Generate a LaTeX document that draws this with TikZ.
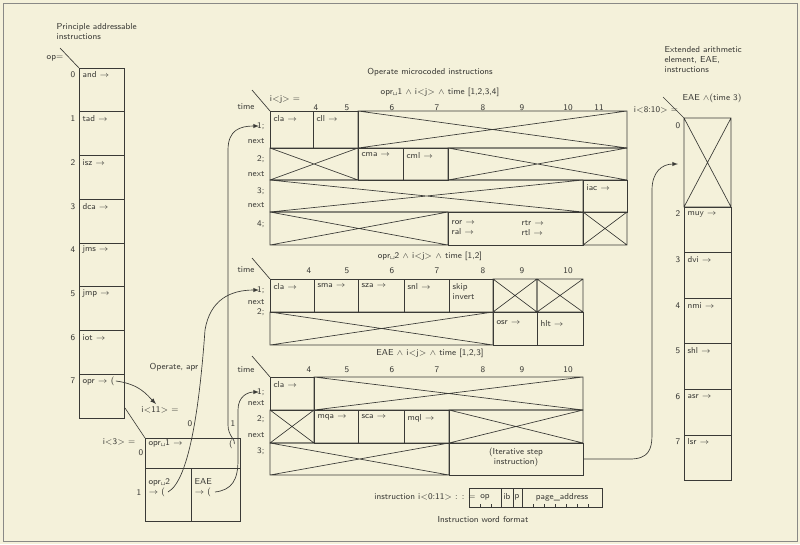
\documentclass[tikz,border=0pt]{standalone}
\usepackage{amsmath, amssymb}
\usepackage{tikz}
\usetikzlibrary{positioning}
\definecolor{paper}{HTML}{F4F1DA}
\definecolor{ink}{HTML}{3A3A36}
\tikzset{
  lbl/.style={font=\fontsize{6.5}{7.5}\sffamily, text=ink, inner sep=1pt},
  ttl/.style={lbl, align=left, anchor=north west},
  grid/.style={draw=ink, line width=0.5pt},
  link/.style={draw=ink, line width=0.5pt, -latex},
}
% crossed-out cell: x1,y1,x2,y2
\newcommand{\xcell}[4]{\draw[grid] (#1,#2) rectangle (#3,#4) (#1,#2) -- (#3,#4) (#1,#4) -- (#3,#2);}
\newcommand{\ar}{$\to$}
\newcommand{\vsp}{\textvisiblespace}
\begin{document}
\begin{tikzpicture}[x=0.75pt, y=-0.75pt]
			% Paper
			\fill[paper] (0,0) rectangle (800,544);
			\useasboundingbox (0,0) rectangle (800,544);
			\draw[ink!60, line width=0.6pt] (3,3) rectangle (797,541);
			
			% Principle addressable instructions
			\node[ttl] (ptitle) at (55,22) {Principle addressable\\instructions};
			\draw[grid] (60,48) -- (79,68);
			\node[lbl] (opeq) at (55,58) {op=};
			\foreach \name [count=\i from 0] in {and,tad,isz,dca,jms,jmp,iot} {
				\draw[grid] (79,68+43.75*\i) rectangle (124,111.75+43.75*\i);
				\node[lbl] at (73,75+43.75*\i) {\i};
				\node[lbl, anchor=west] at (81,75+43.75*\i) {\name\ \ar};
			}
			\draw[grid] (79,374) rectangle (124,418);
			\node[lbl] at (73,381) {7};
			\node[lbl, anchor=west] (opr) at (81,381) {opr \ar\ (};
			
			% Operate, apr
			\node[lbl] (optitle) at (174,367) {Operate, apr};
			\node[lbl] (i11) at (160,410) {i$<$11$>$ =};
			\draw[grid] (125,408) -- (145,438);
			\coordinate (opin) at (156,404);
			\node[lbl] at (190,424) {0};
			\node[lbl] at (233,424) {1};
			\node[lbl] at (119,442) {i$<$3$>$ =};
			\node[lbl] at (141,453) {0};
			\node[lbl] at (139,493) {1};
			\draw[grid] (145,438) rectangle (240,521);
			\draw[grid] (145,468) -- (240,468) (191,468) -- (191,521);
			\node[lbl, anchor=west] at (147,443) {opr\vsp1 \ar};
			\node[lbl] (o1) at (231,444) {(};
			\node[lbl, anchor=north west, align=left] at (147,477) {opr\vsp2\\ \ar\ (};
			\node[lbl, anchor=north west, align=left] at (193,477) {EAE\\ \ar\ (};
			\coordinate (o2) at (168,492);
			\coordinate (o3) at (215,492);
			
			% Operate microcoded instructions
			\node[lbl] (mtitle) at (430,72) {Operate microcoded instructions};
			\node[lbl] at (440,92) {opr\vsp1 $\wedge$ i$<$j$>$ $\wedge$ time [1,2,3,4]};
			\node[lbl] at (285,100) {i$<$j$>$ =};
			\node[lbl] at (246,107) {time};
			\draw[grid] (252,90) -- (270,111);
			\foreach \d/\x in {4/316,5/347,6/392,7/437,8/483,9/522,10/568,11/599}
				\node[lbl] at (\x,108) {\d};
			\draw[grid] (270,111) rectangle (313,148) (313,111) rectangle (358,148);
			\node[lbl, anchor=north west] at (272,114) {cla \ar};
			\node[lbl, anchor=north west] at (315,114) {cll \ar};
			\xcell{358}{111}{627}{148}
			\xcell{270}{148}{358}{180}
			\draw[grid] (358,148) rectangle (403,180) (403,148) rectangle (448,180);
			\node[lbl, anchor=north west] at (360,151) {cma \ar};
			\node[lbl, anchor=north west] at (405,151) {cml \ar};
			\xcell{448}{148}{627}{180}
			\xcell{270}{180}{583}{212}
			\draw[grid] (583,180) rectangle (627,212);
			\node[lbl, anchor=north west] at (585,183) {iac \ar};
			\xcell{270}{212}{448}{245}
			\draw[grid] (448,212) rectangle (583,245);
			\node[lbl, anchor=north west, align=left] at (450,219) {ror \ar\\ral \ar};
			\node[lbl, anchor=north west, align=left] at (520,219) {rtr \ar\\rtl \ar};
			\xcell{583}{212}{627}{245}
			\foreach \t/\y in {1;/126,next/141,2;/159,next/174,3;/191,next/205,4;/224}
				\node[lbl, anchor=east] at (266,\y) {\t};
			\coordinate (t1) at (259,126);
			
			% opr 2 table
			\node[lbl] at (430,256) {opr\vsp2 $\wedge$ i$<$j$>$ $\wedge$ time [1,2]};
			\node[lbl] at (246,270) {time};
			\draw[grid] (252,258) -- (270,279);
			\foreach \d/\x in {4/309,5/347,6/392,7/437,8/483,9/522,10/568}
				\node[lbl] at (\x,271) {\d};
			\foreach \nm/\xa/\xb in {cla \ar/270/314,sma \ar/314/358,sza \ar/358/404,snl \ar/404/449} {
				\draw[grid] (\xa,279) rectangle (\xb,312);
				\node[lbl, anchor=north west] at (\xa+2,282) {\nm};
			}
			\draw[grid] (449,279) rectangle (493,312);
			\node[lbl, anchor=north west, align=left] at (451,282) {skip\\invert};
			\xcell{493}{279}{537}{312}
			\xcell{537}{279}{583}{312}
			\xcell{270}{312}{493}{345}
			\draw[grid] (493,312) rectangle (537,345) (537,312) rectangle (583,345);
			\node[lbl, anchor=north west] at (495,319) {osr \ar};
			\node[lbl, anchor=north west] at (539,319) {hlt \ar};
			\foreach \t/\y in {1;/290,next/302,2;/312}
				\node[lbl, anchor=east] at (266,\y) {\t};
			\coordinate (t2) at (259,290);
			
			% EAE table
			\node[lbl] at (430,353) {EAE $\wedge$ i$<$j$>$ $\wedge$ time [1,2,3]};
			\node[lbl] at (246,370) {time};
			\draw[grid] (252,356) -- (270,377);
			\foreach \d/\x in {4/309,5/347,6/392,7/437,8/483,9/522,10/568}
				\node[lbl] at (\x,370) {\d};
			\draw[grid] (270,377) rectangle (314,410);
			\node[lbl, anchor=north west] at (272,380) {cla \ar};
			\xcell{314}{377}{583}{410}
			\xcell{270}{410}{314}{443}
			\foreach \nm/\xa/\xb in {mqa \ar/314/358,sca \ar/358/404,mql \ar/404/449} {
				\draw[grid] (\xa,410) rectangle (\xb,443);
				\node[lbl, anchor=north west] at (\xa+2,413) {\nm};
			}
			\xcell{449}{410}{583}{443}
			\xcell{270}{443}{449}{475}
			\draw[grid] (449,443) rectangle (583,475);
			\node[lbl, align=center] (iter) at (516,457) {(Iterative step\\instruction)};
			\coordinate (eout) at (583,459);
			\foreach \t/\y in {1;/392,next/403,2;/419,next/435,3;/451}
				\node[lbl, anchor=east] at (266,\y) {\t};
			\coordinate (t3) at (259,392);
			
			% Instruction word format
			\node[lbl] (fmt) at (425,497) {instruction i$<$0:11$>$ : : =};
			\draw[grid] (469,488) rectangle (602,507);
			\draw[grid] (501,488) -- (501,507) (513,488) -- (513,507) (522,488) -- (522,507);
			\foreach \x in {480,491,533,544,555,566,577,588}
				\draw[grid] (\x,507) -- (\x,504);
			\node[lbl] at (485,497) {op};
			\node[lbl] at (507,497) {ib};
			\node[lbl] at (517,497) {p};
			\node[lbl] at (562,497) {page\_address};
			\node[lbl] at (483,519) {Instruction word format};
			
			% Extended arithmetic element
			\node[ttl] (etitle) at (663,45) {Extended arithmetic\\element, EAE,\\instructions};
			\node[lbl] at (712,98) {EAE $\wedge$(time 3)};
			\node[lbl] at (656,110) {i$<$8:10$>$ =};
			\draw[grid] (663,97) -- (684,118);
			\xcell{684}{118}{731}{207}
			\node[lbl] at (678,126) {0};
			\foreach \name/\d [count=\i from 0] in {muy/2,dvi/3,nmi/4,shl/5,asr/6,lsr/7} {
				\draw[grid] (684,207+45.6*\i) rectangle (731,252.6+45.6*\i);
				\node[lbl] at (678,214+45.6*\i) {\d};
				\node[lbl, anchor=west] at (686,214+45.6*\i) {\name\ \ar};
			}
			\coordinate (ein) at (678,164);
			
			% Connectors
			\draw[link] (opr.east) .. controls (140,384) and (148,396) .. (opin);
			\draw[link] (o1.east) .. controls (236,440) and (228,436) .. (228,425)
				-- (228,150) .. controls (228,130) and (240,126) .. (t1);
			\draw[link] (o2) .. controls (190,480) and (200,400) .. (205,330)
				.. controls (210,300) and (230,290) .. (t2);
			\draw[link] (o3) .. controls (232,490) and (238,480) .. (238,460)
				-- (238,410) .. controls (238,396) and (248,392) .. (t3);
			\draw[link] (eout) -- (630,459) .. controls (648,459) and (652,450) .. (652,435)
				-- (652,190) .. controls (652,172) and (662,164) .. (ein);
		\end{tikzpicture}
\end{document}
